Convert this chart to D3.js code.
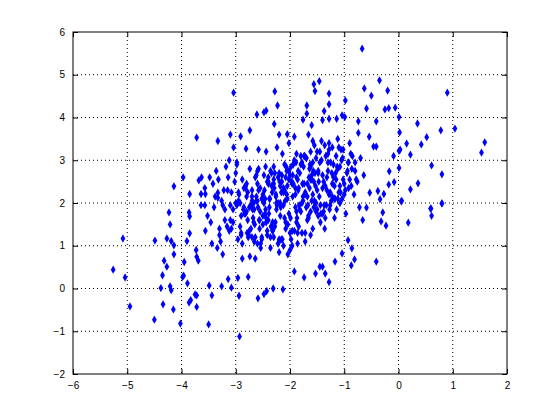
<!DOCTYPE html>
<html><head><meta charset="utf-8">
<script src="https://cdn.jsdelivr.net/npm/d3@7"></script>
<style>body{margin:0;background:#fff}svg{display:block}</style>
</head><body><svg id="c" width="560" height="420"></svg>
<script>
const xTicks = [-6, -5, -4, -3, -2, -1, 0, 1, 2];
const yTicks = [-2, -1, 0, 1, 2, 3, 4, 5, 6];

// outlying points
const outerX = [-3.04,-2.28,-2.23,-2.61,-2.48,-2.44,-2.29,-3.72,-3.33,-3.10,-2.91,-2.74,-3.04,-2.81,-2.20,-2.05,-3.97,-4.14,-3.85,-3.68,-3.63,-3.57,-3.64,-3.56,-3.64,-3.57,-3.33,-3.33,
  -0.67,-0.35,-1.56,-1.46,-1.54,-1.28,-0.63,-0.50,-0.20,0.90,-1.69,-1.28,-0.98,-0.59,-0.25,-0.18,-0.06,-1.69,-1.37,-1.76,-1.60,-1.40,-1.28,-1.14,-1.04,-0.99,-0.74,-0.41,0.01,0.35,0.78,1.04,1.59,1.53,0.02,0.52,0.42,0.15,0.22,0.03,0.01,0.61,0.80,0.36,0.22,0.06,0.80,0.59,-0.74,-0.54,-0.46,-0.41,-0.09,0.01,-0.17,-0.18,-0.08,-0.27,-0.38,-0.53,-0.34,
  -5.08,-5.26,-5.04,-4.95,-4.50,-4.49,-4.23,-4.21,-4.27,-4.19,-4.14,-4.14,-4.32,-4.27,-4.35,-4.38,-4.21,-4.19,-4.34,-4.15,-4.02,-3.98,-3.96,-3.89,-3.86,-3.83,-3.75,-3.72,-3.72,-3.50,-2.93,-3.95,-3.90,-3.85,-3.86,-3.85,-3.73,-3.69,-3.72,-3.49,-3.44,-3.26,-3.08,-2.94,-2.59,-2.48,-2.43,-2.31,-2.13,-2.77,-2.96,-3.14,
  -1.92,-1.74,-1.28,-1.53,-1.35,-1.45,-1.40,-1.17,-0.87,-0.81,-0.41,-1.04,-0.86,-0.93,-0.59,-0.32,-0.23,-0.29,0.18,0.60,0.61,0.80,0.05];
const outerY = [4.58,4.61,4.28,4.07,4.12,4.16,3.85,3.53,3.45,3.60,3.56,3.70,3.30,3.27,3.60,3.61,2.60,2.39,2.21,2.53,2.60,2.35,2.21,2.21,1.95,1.95,2.24,2.12,
  5.61,4.87,4.78,4.85,4.62,4.56,4.68,4.51,4.63,4.58,4.28,4.31,4.40,4.21,4.19,4.22,4.23,4.09,4.15,3.95,3.82,3.94,3.97,3.97,4.05,4.01,3.91,3.91,4.01,3.86,3.70,3.74,3.42,3.18,3.65,3.54,3.37,3.39,3.13,3.25,3.22,2.88,2.67,2.46,2.32,2.05,1.99,1.87,3.64,3.55,3.32,3.32,3.10,2.82,2.74,2.43,2.49,2.21,2.28,2.24,2.09,
  1.17,0.44,0.26,-0.42,-0.73,1.12,1.78,1.50,1.17,1.11,1.01,0.80,0.65,0.51,0.31,0.01,0.05,-0.04,-0.37,-0.49,-0.82,0.27,0.30,0.12,-0.33,-0.27,-0.14,-0.16,-0.43,-0.84,-1.12,0.62,1.11,1.29,1.78,1.69,0.90,0.65,0.74,0.07,-0.16,0.05,0.02,-0.17,-0.23,-0.13,-0.06,0,-0.02,0.27,0.25,0.22,
  0.40,0.26,0.15,0.35,0.35,0.51,0.51,0.63,0.54,0.68,0.63,0.82,0.94,1.13,1.89,1.57,1.47,1.78,1.54,1.87,1.70,1.99,2.04];

// dense centre of the cloud, estimated
const coreX = [-2.12,-1.85,-2.40,-1.60,-2.75,-1.30,-2.05,-2.55,-1.72,-2.28,-1.95,-2.62,-1.45,-2.90,-1.15,-2.18,-1.88,-2.45,-1.52,-2.70,
  -2.02,-1.64,-2.33,-1.78,-2.85,-1.22,-2.10,-2.50,-1.40,-3.05,-1.98,-2.22,-1.70,-2.58,-1.35,-2.95,-1.08,-2.38,-1.82,-2.67,
  -2.15,-1.58,-2.48,-1.92,-2.80,-1.26,-2.08,-2.60,-1.48,-3.12,-1.90,-2.30,-1.66,-2.72,-1.18,-2.42,-1.76,-2.88,-1.02,-2.25,
  -2.00,-1.55,-2.36,-1.84,-2.78,-1.32,-2.14,-2.52,-1.62,-3.00,-1.96,-2.26,-1.74,-2.64,-1.42,-2.92,-1.12,-2.34,-1.80,-2.56,
  -2.06,-1.50,-2.44,-1.86,-2.82,-1.24,-2.18,-2.66,-1.44,-3.20,-1.94,-2.20,-1.68,-2.76,-1.16,-2.46,-1.78,-2.84,-0.98,-2.30,
  -2.04,-1.62,-2.40,-1.90,-2.70,-1.36,-2.12,-2.54,-1.56,-3.08,-2.08,-2.24,-1.72,-2.60,-1.28,-2.98,-1.06,-2.36,-1.84,-2.50,
  -1.98,-1.46,-2.32,-1.76,-2.86,-1.20,-2.16,-2.62,-1.52,-3.16,-1.88,-2.28,-1.60,-2.68,-1.10,-2.40,-1.70,-2.94,-0.94,-2.22,
  -2.10,-1.66,-2.46,-1.94,-2.74,-1.38,-2.02,-2.56,-1.48,-3.02,-2.00,-2.18,-1.80,-2.80,-1.30,-2.44,-1.86,-2.90,-1.04,-2.34,
  -1.92,-1.54,-2.26,-1.82,-2.64,-1.26,-2.20,-2.70,-1.58,-3.10,-1.96,-2.32,-1.64,-2.58,-1.14,-2.50,-1.74,-2.82,-0.90,-2.14,
  -2.06,-1.40,-2.52,-1.88,-2.92,-1.34,-2.08,-2.48,-1.68,-3.24,-2.16,-2.38,-1.56,-2.66,-1.22,-2.96,-1.00,-2.42,-1.78,-2.60,
  -1.62,-2.20,-1.44,-2.36,-1.86,-2.74,-1.18,-2.04,-2.54,-1.72,-2.88,-1.36,-2.12,-1.50,-2.64,-1.08,-2.30,-1.96,-2.78,-1.28,
  -2.24,-1.58,-2.44,-1.92,-2.98,-1.12,-2.02,-2.58,-1.66,-3.14,-0.86,-0.76,-0.70,-0.82,-0.64,-0.92,-0.72,-0.80,-0.66,-0.88,
  -3.30,-3.40,-3.22,-3.36,-3.28,-3.46,-3.18,-3.34,-3.26,-3.52,-3.42,-3.30,-3.20,-3.38,-3.48,-3.24,-3.12,-3.56,-3.32,-3.44];
const coreY = [1.95,2.30,1.60,2.55,1.35,2.75,2.10,1.80,2.20,1.45,2.65,2.05,2.95,1.70,3.10,2.40,1.55,2.85,2.00,1.20,
  1.75,2.80,2.25,1.30,1.90,2.45,2.90,1.50,2.35,1.85,1.15,2.60,3.05,2.30,1.65,2.25,2.85,1.90,2.70,1.55,
  2.50,1.40,2.00,3.00,2.15,1.95,1.40,2.45,2.70,1.35,2.20,2.85,1.70,1.95,2.40,1.25,2.15,2.55,2.55,1.85,
  2.65,2.05,2.75,1.45,1.60,2.30,3.15,1.20,2.85,2.00,1.00,2.15,2.45,2.60,3.00,1.45,2.10,2.40,1.80,1.40,
  2.20,3.20,1.55,2.55,2.40,2.05,1.70,1.85,1.95,1.60,2.90,1.10,2.15,1.25,2.70,2.10,2.95,1.75,2.30,2.55,
  1.50,2.55,2.45,1.90,2.05,3.35,2.35,1.05,2.50,2.25,2.60,1.95,1.30,2.75,2.20,1.95,3.25,1.20,2.35,2.20,
  2.85,2.15,1.35,2.05,1.85,2.60,1.15,2.15,3.05,1.45,1.80,2.70,2.65,1.65,2.25,2.50,1.90,2.20,2.75,1.05,
  2.30,1.65,1.75,2.45,2.80,1.80,2.55,1.60,1.70,2.50,0.90,2.00,2.90,1.80,2.95,1.65,1.30,1.30,2.10,2.70,
  1.35,2.70,2.20,1.85,1.20,2.25,2.70,2.15,2.20,1.60,2.45,1.55,2.35,2.80,1.85,2.05,3.10,2.35,2.55,1.15,
  2.75,1.75,1.15,3.15,2.00,3.10,1.55,2.65,1.60,1.95,2.25,2.10,1.90,1.10,3.30,1.15,2.45,2.50,2.00,2.05,
  1.25,0.85,1.55,0.95,1.05,0.75,1.65,0.80,0.95,1.10,0.70,1.40,1.00,1.85,0.70,2.00,1.20,1.35,2.25,3.40,
  3.30,3.45,3.20,3.55,2.90,3.50,3.40,3.25,3.60,2.60,2.80,2.50,3.05,2.20,2.65,2.35,1.90,2.95,1.60,3.15,
  1.40,1.90,2.30,2.75,1.10,1.55,2.85,0.95,2.05,1.70,2.45,1.25,1.85,2.15,2.60,0.80,3.00,1.35,2.55,1.05];

// second pass over the dense centre, estimated
const fillX = [-1.25,-1.45,-1.65,-1.05,-0.95,-1.35,-1.55,-1.15,-0.85,-1.75,-1.30,-1.50,-1.10,-0.80,-1.40,-1.60,-1.20,-0.90,-1.70,-1.00,
  -1.27,-1.47,-1.67,-1.07,-0.97,-1.37,-1.57,-1.17,-0.87,-1.77,-1.32,-1.52,-1.12,-0.78,-1.42,-1.62,-1.22,-0.92,-1.72,-1.02,
  -2.05,-2.25,-2.45,-1.85,-2.65,-2.15,-2.35,-1.95,-2.55,-2.75,-2.10,-2.30,-1.90,-2.50,-2.70,-2.20,-2.40,-2.00,-2.60,-2.80,
  -2.07,-2.27,-2.47,-1.87,-2.67,-2.17,-2.37,-1.97,-2.57,-2.77,-2.12,-2.32,-1.92,-2.52,-2.72,-2.22,-2.42,-2.02,-2.62,-2.82,
  -2.95,-3.05,-2.85,-3.15,-2.90,-3.00,-3.10,-2.98,-3.08,-2.88,-1.80,-1.58,-1.38,-1.18,-1.68,-1.48,-1.28,-1.08,-1.88,-1.62,
  -1.33,-1.53,-1.73,-1.13,-0.93,-1.43,-1.63,-1.23,-1.03,-1.83,-2.09,-2.29,-2.49,-1.89,-2.69,-2.19,-2.39,-1.99,-2.59,-2.79];
const fillY = [2.95,3.20,2.60,3.00,2.70,2.40,3.35,2.55,3.10,2.85,3.15,2.30,3.30,2.75,2.65,2.05,2.90,3.40,3.05,2.20,
  1.85,2.50,1.95,2.25,1.75,1.95,2.75,2.10,2.40,2.45,2.60,1.80,2.80,2.55,3.45,3.20,2.15,2.95,2.25,3.25,
  2.40,2.00,1.85,2.75,1.50,2.65,1.45,2.15,2.35,1.90,1.65,2.45,2.35,1.70,2.30,1.15,2.60,1.30,1.05,2.45,
  2.85,1.55,2.30,1.65,2.00,1.90,2.10,2.50,1.60,1.20,2.25,1.35,2.95,2.10,1.40,2.00,1.35,2.75,2.65,1.75,
  2.05,1.55,2.35,2.30,1.25,2.70,1.95,2.95,1.40,1.05,3.10,2.95,2.50,2.10,2.45,2.75,3.25,2.40,2.60,1.80,
  1.95,2.40,3.10,2.85,2.95,1.75,2.90,2.70,3.05,1.95,2.05,2.35,2.10,2.95,1.85,2.50,1.75,1.65,1.90,1.30];

const xs = outerX.concat(coreX, fillX), ys = outerY.concat(coreY, fillY);

const svg = d3.select('#c');
const m = {l: 73, r: 507, t: 32, b: 374};
const x = d3.scaleLinear().domain([-6, 2]).range([m.l, m.r]);
const y = d3.scaleLinear().domain([-2, 6]).range([m.b, m.t]);

// dotted grid
svg.append('g').selectAll('line').data(xTicks.slice(1, -1)).join('line')
  .attr('x1', d => x(d)).attr('x2', d => x(d)).attr('y1', m.t).attr('y2', m.b)
  .attr('stroke', '#000').attr('stroke-width', 1).attr('stroke-dasharray', '1,3');
svg.append('g').selectAll('line').data(yTicks.slice(1, -1)).join('line')
  .attr('y1', d => y(d)).attr('y2', d => y(d)).attr('x1', m.l).attr('x2', m.r)
  .attr('stroke', '#000').attr('stroke-width', 1).attr('stroke-dasharray', '1,3');

svg.append('g').selectAll('path').data(xs.map((d, i) => [d, ys[i]])).join('path')
  .attr('d', d3.symbol(d3.symbolDiamond, 20))
  .attr('transform', d => `translate(${x(d[0])},${y(d[1])})`)
  .attr('fill', '#0000ff');

svg.append('rect').attr('x', m.l).attr('y', m.t).attr('width', m.r - m.l).attr('height', m.b - m.t)
  .attr('fill', 'none').attr('stroke', '#000');

const font = 'Liberation Sans, Arial, sans-serif';
const xa = svg.append('g').attr('transform', `translate(0,${m.b})`)
  .call(d3.axisBottom(x).tickValues(xTicks).tickSize(-5).tickPadding(8));
const xa2 = svg.append('g').attr('transform', `translate(0,${m.t})`)
  .call(d3.axisTop(x).tickValues(xTicks).tickSize(-5).tickFormat(''));
const ya = svg.append('g').attr('transform', `translate(${m.l},0)`)
  .call(d3.axisLeft(y).tickValues(yTicks).tickSize(-5).tickPadding(8));
const ya2 = svg.append('g').attr('transform', `translate(${m.r},0)`)
  .call(d3.axisRight(y).tickValues(yTicks).tickSize(-5).tickFormat(''));
[xa, xa2, ya, ya2].forEach(g => {
  g.select('.domain').remove();
  g.selectAll('text').attr('font-family', font).attr('font-size', 10).attr('fill', '#000');
});
</script></body></html>
